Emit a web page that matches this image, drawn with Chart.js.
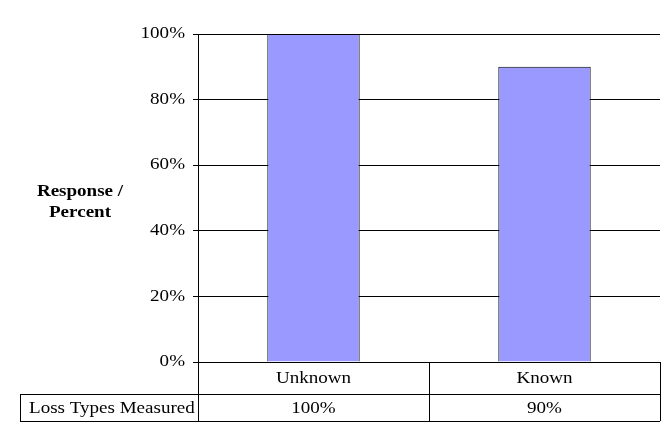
<!DOCTYPE html>
<html><head><meta charset="utf-8">
<script src="https://cdn.jsdelivr.net/npm/chart.js@4"></script>
<style>html,body{margin:0;padding:0;background:#fff}#w{width:669px;height:424px}</style>
</head><body><div id="w"><canvas id="c"></canvas></div>
<script>
const categories = ["Unknown", "Known"];
const seriesName = "Loss Types Measured";
const values = [100, 90];
const tableLabels = ["100%", "90%"];
const yTitleLines = ["Response /", "Percent"];

const FONT = "'Liberation Serif', 'Times New Roman', serif";
const SX = 1.19; // horizontal stretch to match the reference's wide serif rendering

function txt(ctx, s, x, y, align, font) {
  ctx.save();
  ctx.font = font;
  ctx.textAlign = align;
  ctx.textBaseline = 'middle';
  ctx.translate(x, y);
  ctx.scale(SX, 1);
  ctx.fillText(s, 0, 0);
  ctx.restore();
}

const tablePlugin = {
  id: 'tablePlugin',
  afterDraw(chart) {
    const ctx = chart.ctx, a = chart.chartArea, xs = chart.scales.x, ys = chart.scales.y;
    const row1 = 32, row2 = 27, leftX = 20;
    const y0 = a.bottom, y1 = y0 + row1, y2 = y1 + row2;
    const f = '16px ' + FONT;
    ctx.save();
    ctx.strokeStyle = '#000'; ctx.lineWidth = 1;
    ctx.beginPath();
    ctx.moveTo(a.left, y0 + 0.5); ctx.lineTo(a.right, y0 + 0.5);
    ctx.moveTo(leftX, y1 + 0.5); ctx.lineTo(a.right, y1 + 0.5);
    ctx.moveTo(leftX, y2 + 0.5); ctx.lineTo(a.right, y2 + 0.5);
    ctx.moveTo(leftX + 0.5, y1); ctx.lineTo(leftX + 0.5, y2);
    ctx.moveTo(a.left + 0.5, y0); ctx.lineTo(a.left + 0.5, y2);
    const n = categories.length;
    const w = (a.right - a.left) / n;
    for (let i = 1; i <= n; i++) {
      const x = Math.round(a.left + w * i) + 0.5;
      ctx.moveTo(x, y0); ctx.lineTo(x, y2);
    }
    ctx.stroke();
    ctx.fillStyle = '#000';
    categories.forEach((c, i) => {
      const x = xs.getPixelForValue(i);
      txt(ctx, c, x, y0 + row1 / 2 + 1, 'center', f);
      txt(ctx, tableLabels[i], x, y1 + row2 / 2 + 1, 'center', f);
    });
    txt(ctx, seriesName, leftX + 9, y1 + row2 / 2 + 1, 'left', f);
    // y tick labels
    ys.ticks.forEach(t => {
      txt(ctx, t.value + '%', a.left - 13, ys.getPixelForValue(t.value), 'right', f);
    });
    // y title
    const fb = 'bold 16px ' + FONT;
    txt(ctx, yTitleLines[0], 80, 192, 'center', fb);
    txt(ctx, yTitleLines[1], 80, 213, 'center', fb);
    ctx.restore();
  }
};

new Chart(document.getElementById('c'), {
  type: 'bar',
  data: {
    labels: categories,
    datasets: [{
      label: seriesName,
      data: values,
      backgroundColor: '#9999FF',
      borderColor: '#000',
      borderWidth: 1,
      barPercentage: 0.4,
      categoryPercentage: 1
    }]
  },
  options: {
    responsive: true,
    maintainAspectRatio: false,
    animation: false,
    layout: { padding: { top: 34, right: 9, bottom: 62, left: 0 } },
    plugins: { legend: { display: false }, tooltip: { enabled: false } },
    scales: {
      x: { display: false },
      y: {
        min: 0, max: 100,
        afterFit(axis) { axis.width = 198; },
        ticks: {
          stepSize: 20,
          display: false,
          callback: v => v + '%'
        },
        grid: { color: '#000', lineWidth: 1, tickLength: 5, drawTicks: true },
        border: { display: true, color: '#000', width: 1 }
      }
    }
  },
  plugins: [tablePlugin]
});
</script>
</body></html>
